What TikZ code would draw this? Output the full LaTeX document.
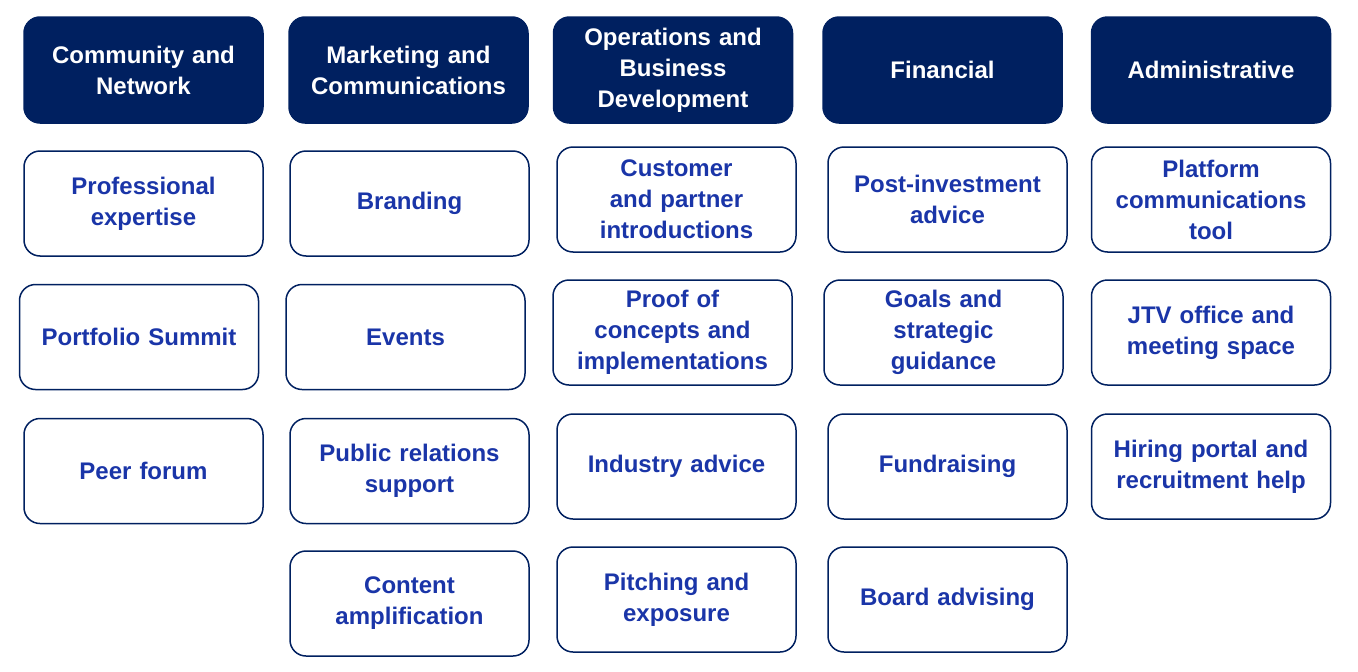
\documentclass[tikz,border=0pt]{standalone}
\usepackage{fontspec}
\setmainfont{Liberation Sans}
\begin{document}
\definecolor{navy}{HTML}{002060}
\definecolor{txt}{HTML}{1A35A8}
\begin{tikzpicture}[x=1pt,y=-1pt,
 head/.style={draw=navy,fill=navy,rounded corners=16pt,minimum width=239pt,minimum height=106pt,text width=230pt,align=center,font=\bfseries\fontsize{24}{31}\selectfont,text=white,line width=1.5pt},
 box/.style={draw=navy,fill=white,rounded corners=16pt,minimum width=239pt,minimum height=105pt,text width=230pt,align=center,font=\bfseries\fontsize{24}{31}\selectfont,text=txt,line width=1.5pt}]
\useasboundingbox (0,0) rectangle (1358,672);
\node[head] (h1) at (143.5,70) {Community and\\Network};
\node[head] (h2) at (408.5,70) {Marketing and\\Communications};
\node[head] (h3) at (673,70) {Operations and\\Business\\Development};
\node[head] (h4) at (942.5,70) {Financial};
\node[head] (h5) at (1211,70) {Administrative};
\node[box] (a1) at (143.5,203.5) {Professional\\expertise};
\node[box] (a2) at (139,337) {Portfolio Summit};
\node[box] (a3) at (143.5,471) {Peer forum};
\node[box] (b1) at (409.5,203.5) {Branding};
\node[box] (b2) at (405.5,337) {Events};
\node[box] (b3) at (409.5,471) {Public relations\\support};
\node[box] (b4) at (409.5,603.5) {Content\\amplification};
\node[box] (c1) at (676.5,199.5) {Customer\\and partner\\introductions};
\node[box] (c2) at (672.5,332.5) {Proof of\\concepts and\\implementations};
\node[box] (c3) at (676.5,466.5) {Industry advice};
\node[box] (c4) at (676.5,599.5) {Pitching and\\exposure};
\node[box] (d1) at (947.5,199.5) {Post-investment\\advice};
\node[box] (d2) at (943.5,332.5) {Goals and\\strategic\\guidance};
\node[box] (d3) at (947.5,466.5) {Fundraising};
\node[box] (d4) at (947.5,599.5) {Board advising};
\node[box] (e1) at (1211,199.5) {Platform\\communications\\tool};
\node[box] (e2) at (1211,332.5) {JTV office and\\meeting space};
\node[box] (e3) at (1211,466.5) {Hiring portal and\\recruitment help};
\end{tikzpicture}
\end{document}
